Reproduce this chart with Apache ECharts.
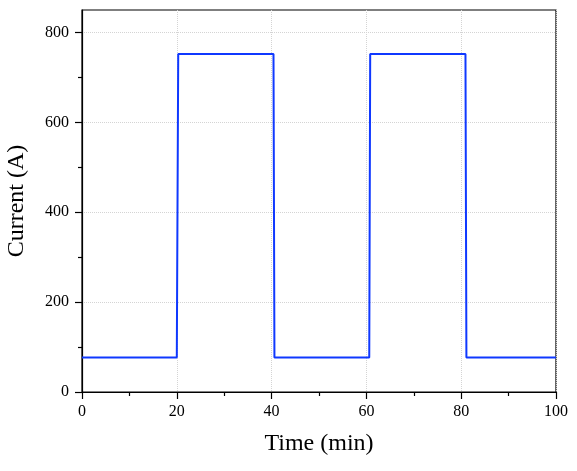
<!DOCTYPE html>
<html>
<head>
<meta charset="utf-8">
<script src="https://cdn.jsdelivr.net/npm/echarts@6/dist/echarts.min.js"></script>
<style>
  html, body { margin: 0; padding: 0; background: #fff; }
  #chart { width: 577px; height: 471px; }
</style>
</head>
<body>
<div id="chart"></div>
<script>
// time (min) and current (A)
var timeMin = [0, 20, 20.3, 40.4, 40.6, 60.6, 60.8, 80.9, 81.1, 100];
var currentA = [77, 77, 752, 752, 77, 77, 752, 752, 77, 77];
var yMajorTicks = [0, 200, 400, 600, 800];
var yMinorTicks = [100, 300, 500, 700];

var points = timeMin.map(function (t, i) { return [t, currentA[i]]; });

var font = '"Liberation Serif", "Times New Roman", serif';
var myChart = echarts.init(document.getElementById('chart'));
var option = {
    backgroundColor: '#fff',
    animation: false,
    grid: {
        left: 82, right: 21, top: 10, bottom: 79,
        outerBoundsMode: 'none',
        containLabel: false,
        show: true, borderColor: '#000', borderWidth: 1.2
    },
    xAxis: {
        type: 'value',
        min: 0, max: 100, interval: 20,
        name: 'Time (min)',
        nameLocation: 'middle',
        nameGap: 40,
        nameTextStyle: { fontFamily: font, fontSize: 24, color: '#000' },
        axisLine: { lineStyle: { color: '#000', width: 1.2 } },
        axisTick: { length: 7, lineStyle: { color: '#000', width: 1.2 } },
        minorTick: { show: true, splitNumber: 2, length: 4, lineStyle: { color: '#000', width: 1.2 } },
        axisLabel: { fontFamily: font, fontSize: 16, color: '#000', margin: 12 },
        splitLine: { show: true, lineStyle: { color: '#d4d4d4', type: 'dotted', width: 1 } }
    },
    yAxis: [
        {
            type: 'value',
            min: 0, max: 850, interval: 200,
            name: 'Current (A)',
            nameLocation: 'middle',
            nameGap: 53,
            nameTextStyle: { fontFamily: font, fontSize: 24, color: '#000' },
            axisLine: { show: true, lineStyle: { color: '#000', width: 1.2 } },
            axisTick: { show: true, length: 7, customValues: yMajorTicks, lineStyle: { color: '#000', width: 1.2 } },
            axisLabel: { fontFamily: font, fontSize: 16, color: '#000', margin: 13, customValues: yMajorTicks },
            splitLine: { show: true, lineStyle: { color: '#d4d4d4', type: 'dotted', width: 1 } }
        },
        {
            type: 'value',
            min: 0, max: 850,
            position: 'left',
            axisLine: { show: false },
            axisTick: { show: true, length: 4, customValues: yMinorTicks, lineStyle: { color: '#000', width: 1.2 } },
            axisLabel: { show: false },
            splitLine: { show: false }
        }
    ],
    series: [
        {
            type: 'line',
            data: points,
            showSymbol: false,
            lineStyle: { color: '#0f38ff', width: 2 }
        }
    ]
};
myChart.setOption(option);
</script>
</body>
</html>
